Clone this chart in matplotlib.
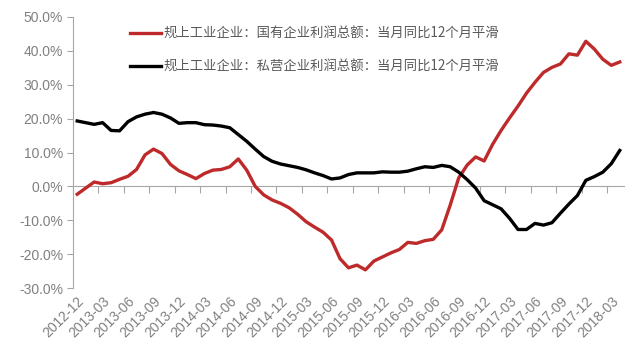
import pandas as pd
import numpy as np
import matplotlib
matplotlib.use('Agg')
import matplotlib.pyplot as plt
from matplotlib.font_manager import FontProperties

plt.rcParams['font.family'] = ['Liberation Sans', 'Noto Sans CJK SC', 'DejaVu Sans']
plt.rcParams['axes.unicode_minus'] = False

# 月份：2012-12 至 2018-04
months = pd.period_range('2012-12', '2018-04', freq='M').strftime('%Y-%m').tolist()

# 规上工业企业：国有企业利润总额：当月同比12个月平滑 (%)
state_owned = [-2.3, -0.5, 1.3, 0.8, 1.1, 2.1, 3.0, 5.0, 9.3, 11.0,
               9.7, 6.5, 4.6, 3.5, 2.3, 3.8, 4.8, 5.0, 5.8, 8.1,
               4.8, 0.0, -2.5, -4.0, -5.0, -6.3, -8.2, -10.4, -12.0, -13.5,
               -15.8, -21.3, -24.0, -23.2, -24.6, -22.0, -20.8, -19.6, -18.6, -16.5,
               -16.8, -16.0, -15.6, -12.8, -5.5, 2.5, 6.3, 8.7, 7.5, 12.4,
               16.5, 20.2, 23.7, 27.5, 30.7, 33.6, 35.1, 36.1, 39.1, 38.7,
               42.8, 40.5, 37.5, 35.7, 36.7]

# 规上工业企业：私营企业利润总额：当月同比12个月平滑 (%)
private = [19.3, 18.8, 18.3, 18.8, 16.5, 16.4, 19.1, 20.5, 21.3, 21.8,
           21.3, 20.2, 18.6, 18.8, 18.8, 18.2, 18.1, 17.8, 17.3, 15.3,
           13.3, 11.0, 8.8, 7.4, 6.6, 6.1, 5.6, 4.9, 4.0, 3.2,
           2.2, 2.5, 3.5, 4.0, 4.0, 4.0, 4.3, 4.2, 4.2, 4.5,
           5.2, 5.8, 5.6, 6.2, 5.8, 4.2, 2.0, -0.5, -4.2, -5.4,
           -6.6, -9.4, -12.7, -12.7, -10.9, -11.4, -10.7, -7.9, -5.2, -2.7,
           1.8, 2.9, 4.2, 6.7, 10.6]

label_red = '规上工业企业：国有企业利润总额：当月同比12个月平滑'
label_black = '规上工业企业：私营企业利润总额：当月同比12个月平滑'

grey = '#808080'
x = np.arange(len(months))

fig = plt.figure(figsize=(6.4, 3.51), dpi=100)
ax = fig.add_axes([0.114, 0.179, 0.861, 0.773])

l1, = ax.plot(x, state_owned, color='#BE2A2A', lw=2.4, solid_joinstyle='round')
l2, = ax.plot(x, private, color='black', lw=2.4, solid_joinstyle='round')

ax.set_xlim(-0.5, len(months) - 0.5)
ax.set_ylim(-30, 50)
ax.set_yticks(np.arange(-30, 51, 10))
ax.set_yticklabels(['%.1f%%' % v for v in np.arange(-30, 51, 10)])

for s in ['top', 'right', 'bottom']:
    ax.spines[s].set_visible(False)
ax.spines['left'].set_color('#a6a6a6')
ax.tick_params(axis='y', colors='#a6a6a6', labelcolor=grey, length=4,
               pad=3, labelsize=10)

# 类别标签（每3个月）
ax.set_xticks(x[::3])
ax.set_xticklabels(months[::3], rotation=45, ha='right', rotation_mode='anchor')
ax.tick_params(axis='x', length=0, labelcolor=grey, labelsize=10, pad=4)

# 0 轴线及刻度
sec = ax.secondary_xaxis(0.375)
sec.set_xticks(np.arange(-0.5, len(months), 3))
sec.tick_params(axis='x', direction='out', length=5, color='#a6a6a6',
                labelbottom=False, labeltop=False)
sec.spines['bottom'].set_color('#a6a6a6')
sec.spines['top'].set_color('#a6a6a6')

leg_font = FontProperties(family=['Noto Sans CJK SC', 'DejaVu Sans'], size=9.6)
leg = fig.legend([l1, l2], [label_red, label_black], loc='upper left',
                 bbox_to_anchor=(0.203, 0.925), frameon=False, prop=leg_font,
                 handlelength=2.3, handletextpad=0.25, labelspacing=1.45,
                 borderpad=0, borderaxespad=0)
for t in leg.get_texts():
    t.set_color('#595959')

fig.savefig('out.png', dpi=100)
